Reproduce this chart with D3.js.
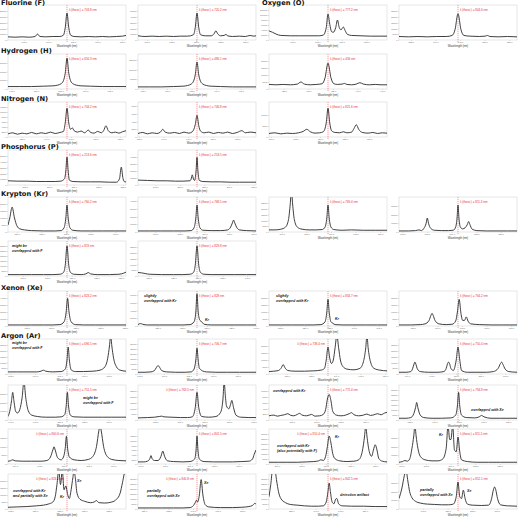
<!DOCTYPE html>
<html>
<head>
<meta charset="utf-8">
<script src="https://cdn.jsdelivr.net/npm/d3@7"></script>
<style>
  body { margin: 0; background: #fff; }
  svg { display: block; }
</style>
</head>
<body>
<svg id="fig" width="520" height="519"></svg>
<script>
'use strict';

// Section headers: text, row, column
var headers = [
  ['Fluorine (F)', 0, 0], ['Oxygen (O)', 0, 2], ['Hydrogen (H)', 1, 0],
  ['Nitrogen (N)', 2, 0], ['Phosphorus (P)', 3, 0], ['Krypton (Kr)', 4, 0],
  ['Xenon (Xe)', 6, 0], ['Argon (Ar)', 7, 0]
];

// Theoretical line of each panel (nm), in drawing order
var lambdaText = [
  '703.8', '720.2', '777.2', '844.6',
  '656.3', '486.1', '434',
  '744.2', '746.8', '821.6',
  '213.6', '253.5',
  '760.2', '768.5', '769.4', '811.3',
  '819', '829.8',
  '823.2', '828', '834.7', '764.2',
  '696.5', '706.7', '738.4', '750.4',
  '751.5', '763.5', '772.4', '794.8',
  '800.6', '801.5', '810.4', '811.5',
  '826.5', '840.8', '842.5', '852.1'
];

// Counts at the top of each panel
var yTop = [
  300000, 60000, 140000, 30000,
  200000, 180000, 25000,
  14000, 9000, 16000,
  60000, 50000,
  25000, 45000, 30000, 40000,
  35000, 30000,
  50000, 90000, 25000, 25000,
  30000, 35000, 25000, 30000,
  40000, 30000, 12000, 35000,
  20000, 15000, 35000, 40000,
  25000, 35000, 35000, 40000
];

// Spectra: [position across window (%), intensity (% of panel top)]
var spectra = [
  [[0,9],[6,8],[12,9],[18,8],[23,10],[25,17],[27,10],[32,9],[38,10],[44,10],[47,14],[48.5,35],[50,77],[51.5,35],[53,14],[56,10],[62,9],[68,10],[74,9],[80,10],[86,9],[92,10],[97,11],[100,13]],
  [[0,12],[6,10],[12,11],[18,10],[24,11],[30,10],[36,11],[42,11],[47,15],[48.5,35],[50,77],[51.5,35],[53,15],[57,12],[62,12],[64.5,18],[66,26],[67.5,18],[70,12],[73,13],[74.5,16],[76,12],[80,10],[86,11],[91,10],[95,13],[98,11],[100,12]],
  [[0,26],[3,22],[6,17],[10,13],[18,12],[26,12],[34,12],[42,12],[46,14],[48.5,35],[50,74],[51.5,45],[53,24],[54.5,22],[56.5,35],[58,57],[59.5,36],[61,29],[63,37],[64.5,27],[66.5,16],[70,13],[78,12],[86,11],[94,11],[100,11]],
  [[0,10],[8,9],[16,10],[24,9],[32,10],[40,10],[45,13],[47.5,30],[50,75],[52.5,30],[55,13],[60,11],[68,10],[73,11],[75,13],[77,10],[84,9],[92,10],[100,9]],
  [[0,7],[10,7],[20,7],[30,8],[38,9],[42,11],[45,15],[47,24],[48.5,45],[50,88],[51.5,45],[53,24],[55,15],[58,11],[62,9],[70,8],[80,7],[90,7],[100,7]],
  [[0,6],[10,6],[20,6],[30,7],[38,8],[42,10],[45,14],[47,22],[48.5,40],[50,77],[51.5,40],[53,22],[55,14],[58,10],[62,8],[70,7],[80,6],[90,6],[100,6]],
  [[0,13],[6,12],[12,13],[18,12],[24,14],[27,20],[30,14],[35,12],[40,13],[45,15],[47.5,32],[50,74],[52.5,32],[55,15],[58,13],[62,14],[64,16],[66,13],[70,12],[74,14],[77,18],[80,14],[85,12],[90,13],[95,12],[100,12]],
  [[0,9],[4,12],[8,8],[12,11],[16,9],[20,13],[24,9],[28,12],[32,10],[36,14],[40,10],[44,13],[47,16],[48.5,40],[50,82],[51.5,40],[53,22],[54.5,26],[56,18],[59,14],[62,17],[65,12],[68,20],[70,13],[73,11],[76,16],[79,12],[81,18],[83,32],[85,18],[88,12],[91,14],[94,11],[97,15],[100,18]],
  [[0,10],[4,13],[8,9],[12,12],[16,10],[19,14],[21,22],[23,14],[27,11],[31,13],[35,10],[39,14],[43,11],[46,15],[48.5,35],[50,62],[51.5,32],[53,17],[56,12],[60,14],[64,10],[68,13],[72,11],[76,14],[80,10],[84,13],[88,18],[91,12],[95,14],[100,12]],
  [[0,10],[5,12],[10,9],[15,11],[20,10],[25,12],[29,16],[32,22],[35,15],[39,11],[43,12],[46,15],[48.5,40],[50,82],[51.5,40],[53,18],[56,13],[60,12],[63,15],[66,12],[70,14],[72,24],[74,35],[76,22],[79,13],[84,11],[88,13],[92,10],[96,12],[100,11]],
  [[0,12],[8,11],[16,11],[24,10],[32,10],[40,10],[45,11],[47,15],[48,18],[49,40],[50,80],[51,40],[52,14],[55,10],[62,9],[70,9],[78,9],[86,8],[92,8],[94.5,18],[96,51],[97.5,18],[99,9],[100,9]],
  [[0,14],[8,13],[16,12],[24,12],[32,11],[38,11],[44,12],[45,17],[46,29],[47,17],[48,13],[49.2,40],[50,79],[50.8,40],[52,13],[55,10],[62,9],[70,9],[78,8],[86,8],[94,8],[100,8]],
  [[0,20],[1.5,40],[3.5,71],[5.5,40],[7.5,18],[10,9],[14,6],[20,4],[30,3],[40,3],[45,4],[47.5,12],[49,40],[50,77],[51,40],[52.5,12],[55,5],[62,3],[70,3],[80,3],[90,3],[100,3]],
  [[0,3],[10,3],[20,3],[30,3],[40,3],[45,4],[47.5,12],[49,40],[50,77],[51,40],[52.5,12],[55,5],[62,4],[70,4],[76,6],[78.5,14],[80,26],[81,34],[82,26],[83.5,14],[86,6],[92,4],[100,3]],
  [[0,6],[5,6],[10,8],[14,14],[16.5,35],[18,80],[19,120],[20,80],[21.5,35],[24,14],[28,8],[34,6],[40,6],[45,7],[47.5,14],[49,40],[50,77],[51,40],[52.5,14],[55,7],[62,5],[70,6],[80,5],[90,5],[100,5]],
  [[0,3],[8,3],[14,4],[17,6],[19,4],[21,10],[23,25],[24,40],[25,25],[27,10],[30,5],[36,4],[42,4],[46,5],[48,14],[49.2,40],[50,77],[50.8,40],[52,14],[54,9],[56,12],[58,22],[59,30],[60,22],[62,8],[66,4],[74,3],[84,3],[92,3],[100,3]],
  [[0,4],[10,4],[20,4],[30,4],[38,4],[44,5],[47,10],[48.5,30],[50,86],[51.5,30],[53,10],[56,5],[62,4],[66,6],[68,10],[70,6],[76,4],[86,4],[94,5],[98,8],[100,11]],
  [[0,10],[3,9],[6,7],[10,5],[20,4],[30,4],[38,4],[44,5],[47,10],[48.5,30],[50,86],[51.5,30],[53,10],[56,5],[62,4],[72,4],[82,4],[92,4],[100,4]],
  [[0,3],[10,3],[20,3],[30,3],[38,3],[44,4],[47.5,12],[49.3,40],[50.5,79],[51.7,40],[53.5,12],[57,4],[64,3],[74,3],[84,3],[94,3],[100,3]],
  [[0,4],[2,7],[4,5],[8,3],[18,3],[28,3],[38,3],[44,4],[47.5,12],[49,40],[50,92],[51,40],[52.5,16],[54,12],[56,5],[62,3],[72,3],[82,3],[92,3],[100,3]],
  [[0,3],[10,3],[20,3],[30,3],[38,3],[44,4],[47.5,12],[49,40],[50,76],[51,40],[52.5,12],[54,8],[56,4],[62,3],[72,3],[82,3],[92,3],[100,3]],
  [[0,3],[10,3],[18,4],[22,6],[25.5,16],[27,30],[28,36],[29,30],[30.5,16],[34,6],[40,4],[45,5],[48,14],[49.5,40],[51,76],[52.5,36],[54,16],[55.5,16],[57,26],[58.5,14],[61,6],[68,4],[78,3],[88,3],[100,3]],
  [[0,6],[8,6],[16,6],[24,6],[28,8],[30,11],[32,8],[38,6],[45,7],[48.5,14],[50,40],[51,77],[52,40],[53.5,12],[57,7],[64,7],[72,8],[78,11],[82,20],[84.5,45],[86,80],[87,110],[88,80],[89.5,45],[92,20],[95,11],[100,8]],
  [[0,5],[6,5],[11,6],[14,10],[15.5,18],[17,24],[18.5,18],[20,10],[24,6],[32,5],[40,5],[45,6],[47.5,14],[49,40],[50,74],[51,40],[52,16],[53,13],[54.5,9],[58,6],[66,5],[76,5],[86,5],[94,5],[100,5]],
  [[0,7],[4,8],[8,10],[10.5,18],[12,27],[13.5,18],[16,10],[22,8],[30,8],[38,9],[44,11],[47,16],[48.5,40],[50,77],[51.5,45],[53,30],[54.5,40],[56,75],[57.5,110],[59,75],[60.5,40],[62.5,22],[66,14],[72,12],[77,16],[80,35],[82,75],[83,110],[84,75],[86,35],[89,16],[94,11],[100,9]],
  [[0,5],[6,5],[10,7],[11.5,15],[12.5,26],[13.5,34],[14.5,26],[15.5,15],[18,7],[25,5],[33,5],[38,7],[40,16],[41,28],[42,34],[43,28],[44,16],[46,10],[48.5,40],[50,77],[51.5,40],[53,10],[58,5],[66,5],[74,5],[80,7],[84,16],[86,30],[87,34],[88,28],[90,14],[93,7],[100,5]],
  [[0,10],[1.5,25],[3,55],[4,79],[5,55],[6.5,25],[8,20],[10,30],[12,65],[13.5,110],[15,65],[17,28],[20,14],[25,10],[32,8],[40,8],[45,9],[48,15],[49.3,40],[50.3,79],[51.3,40],[52.8,14],[56,9],[64,8],[72,8],[80,8],[88,8],[96,8],[100,8]],
  [[0,6],[8,7],[14,8],[18,10],[20,11],[22,9],[28,8],[36,7],[42,7],[46,9],[48.5,35],[50,79],[51.5,35],[54,10],[60,8],[66,10],[70,22],[72,60],[73,110],[74,70],[75,40],[77,32],[78.5,45],[79.5,56],[81,35],[83,14],[87,8],[94,7],[100,7]],
  [[0,12],[4,14],[7,11],[10,13],[13,15],[16,18],[18,14],[21,12],[24,16],[26,19],[28,14],[32,12],[36,16],[39,11],[43,12],[46,16],[48,30],[49.5,60],[51,73],[52.5,55],[54,25],[57,14],[61,12],[65,14],[68,18],[70,21],[72,15],[76,12],[80,14],[83,17],[86,13],[89,15],[92,18],[95,15],[98,20],[100,22]],
  [[0,5],[6,5],[10,7],[12,14],[14,35],[15,50],[16,35],[18,14],[21,7],[28,5],[36,5],[44,6],[48,14],[49.5,40],[50.5,79],[51.5,40],[53,14],[57,7],[64,6],[68,9],[70,13],[72,9],[78,5],[86,5],[94,5],[100,5]],
  [[0,8],[2,9],[4,12],[6,9],[12,8],[20,8],[28,8],[33,10],[36,20],[38,40],[39,49],[40,40],[42,18],[45,12],[47,20],[48.5,45],[49.5,79],[50.5,45],[52,20],[56,12],[62,10],[68,13],[72,22],[75,50],[77,95],[78,110],[79,95],[81,50],[84,22],[88,13],[94,10],[100,9]],
  [[0,6],[5,6],[8,8],[10,15],[11,24],[12,15],[14,10],[17,10],[19.5,22],[21,37],[22.5,22],[25,9],[30,7],[38,6],[44,7],[48,14],[49.2,40],[50,80],[50.8,40],[52,14],[56,7],[64,6],[72,6],[80,6],[88,7],[94,8],[97,14],[98.5,28],[100,40]],
  [[0,5],[8,5],[16,5],[24,5],[32,6],[38,7],[42,9],[44,12],[46,10],[48,22],[49.5,50],[51,80],[52.5,60],[54,30],[56,15],[60,9],[66,7],[72,8],[76,12],[79,35],[81,80],[82,110],[83,80],[85,35],[87,22],[88.5,40],[90,55],[91.5,40],[93,16],[96,8],[100,6]],
  [[0,5],[3,7],[5,10],[7,8],[9,14],[11,45],[12.5,80],[13.5,110],[14.5,80],[16,45],[18,22],[22,12],[28,9],[33,9],[37,14],[40,45],[41.5,110],[43,70],[44,70],[45.5,110],[47,40],[48.5,35],[50,77],[51.5,35],[53,12],[58,7],[66,5],[76,5],[86,5],[94,5],[100,5]],
  [[0,5],[8,6],[16,7],[24,9],[30,11],[34,14],[38,20],[40,35],[41.5,70],[43,110],[44.5,70],[46,110],[47.5,55],[49,66],[50.5,42],[52,30],[53.5,55],[55,90],[56,110],[57,90],[58.5,45],[61,28],[65,22],[70,18],[73,20],[75,24],[77,18],[82,17],[88,20],[92,28],[95,45],[97,75],[98.5,100],[100,115]],
  [[0,3],[10,3],[20,3],[30,3],[38,3],[44,4],[47,10],[48.5,18],[49.5,25],[50.5,20],[52,40],[53.5,84],[55,40],[57,12],[60,6],[70,4],[80,4],[88,5],[94,7],[97,10],[99,16],[100,14]],
  [[0,35],[1.5,70],[3,110],[5,110],[6.5,80],[8,50],[10,30],[14,18],[18,13],[24,11],[30,9],[36,8],[42,8],[46,9],[48.5,20],[50,50],[51,74],[52,50],[53.5,20],[55,15],[56.5,28],[57.5,30],[59,15],[62,9],[70,8],[80,8],[90,7],[100,7]],
  [[0,30],[2.5,60],[4.5,95],[6,110],[7.5,80],[9,50],[11,32],[14,22],[18,17],[24,14],[30,13],[36,12],[42,12],[46,14],[48.5,35],[50,77],[51.5,35],[53,30],[54.5,54],[56,30],[58,14],[62,11],[70,10],[76,11],[78.5,30],[80,55],[81,63],[82,55],[83.5,30],[86,12],[92,9],[100,8]]
];

// Grid slot [row, column] of each panel
var slots = [
  [0,0],[0,1],[0,2],[0,3],
  [1,0],[1,1],[1,2],
  [2,0],[2,1],[2,2],
  [3,0],[3,1],
  [4,0],[4,1],[4,2],[4,3],
  [5,0],[5,1],
  [6,0],[6,1],[6,2],[6,3],
  [7,0],[7,1],[7,2],[7,3],
  [8,0],[8,1],[8,2],[8,3],
  [9,0],[9,1],[9,2],[9,3],
  [10,0],[10,1],[10,2],[10,3]
];

// Panels whose red label sits left of the dashed line
var labelLeft = [24, 27, 30, 32, 34, 35];

// Black annotations: panel, lines, offset inside the plot (px)
var notes = [
  [16, ['might be', 'overlapped with F'], 4, 6],
  [19, ['slightly', 'overlapped with Kr'], 6, 6],
  [19, ['Kr'], 67, 30],
  [20, ['slightly', 'overlapped with Kr'], 7, 6],
  [20, ['Kr'], 66, 29],
  [22, ['might be', 'overlapped with F'], 4, 5],
  [26, ['might be', 'overlapped with F'], 75, 14],
  [28, ['overlapped with Kr'], 4, 7],
  [29, ['overlapped with Xe'], 72, 26],
  [32, ['overlapped with Kr', '(also potentially with F)'], 8, 18],
  [32, ['Kr'], 66, 9],
  [33, ['Kr'], 40, 7],
  [34, ['overlapped with Kr', 'and partially with Xe'], 5, 18],
  [34, ['Kr'], 52, 24],
  [34, ['Xe'], 69, 8],
  [35, ['partially', 'overlapped with Xe'], 9, 18],
  [35, ['Xe'], 66, 10],
  [36, ['detection artifact'], 71, 22],
  [37, ['partially', 'overlapped with Xe'], 21, 17],
  [37, ['Xe'], 68, 18]
];

var rowTop = [5, 54, 102, 150, 197, 241, 291, 339, 385, 429, 474],
  colLeft = [8, 138, 269, 399],
  plotW = 118,
  plotH = 35,
  halfSpan = 12,
  svg = d3.select('#fig');

svg.append('rect').attr('width', 520).attr('height', 519).attr('fill', '#fff');

function styleAxis(a) {
  a.select('.domain').remove();
  a.selectAll('line').attr('stroke', '#999').attr('stroke-width', 0.3);
  a.selectAll('text')
    .attr('fill', '#666')
    .style('font-size', '2.2px')
    .style('font-family', 'Liberation Sans, Arial, sans-serif');
}

// Draw every panel
lambdaText.forEach(function (lt, i) {
  var lam = +lt,
    r = slots[i][0],
    c = slots[i][1],
    left = labelLeft.indexOf(i) >= 0,
    g, x, pos, y, line, clipId, yTicks;

  x = d3.scaleLinear().domain([lam - halfSpan, lam + halfSpan]).range([0, plotW]);
  pos = d3.scaleLinear().domain([0, 100]).range([lam - halfSpan, lam + halfSpan]);
  y = d3.scaleLinear().domain([0, yTop[i]]).range([plotH, 0]);
  yTicks = y.ticks(5).filter(function (t) { return t <= yTop[i] * 0.9; });

  g = svg.append('g').attr('transform', 'translate(' + colLeft[c] + ',' + rowTop[r] + ')');

  clipId = 'clip' + i;
  g.append('clipPath').attr('id', clipId)
    .append('rect').attr('width', plotW).attr('height', plotH);

  g.append('rect')
    .attr('width', plotW).attr('height', plotH)
    .attr('fill', '#fff')
    .attr('stroke', '#cfcfcf')
    .attr('stroke-width', 0.5);

  g.append('g')
    .attr('transform', 'translate(0,' + plotH + ')')
    .call(d3.axisBottom(x).ticks(5).tickSize(1).tickPadding(0.6).tickFormat(d3.format('.1f')))
    .call(styleAxis);

  g.append('g')
    .call(d3.axisLeft(y).tickValues(yTicks).tickSize(1).tickPadding(0.6).tickFormat(d3.format('d')))
    .call(styleAxis);

  g.append('text')
    .attr('x', plotW / 2).attr('y', plotH + 6.5)
    .attr('text-anchor', 'middle')
    .attr('fill', '#333')
    .style('font-size', '2.7px')
    .style('font-family', 'Liberation Sans, Arial, sans-serif')
    .text('Wavelength (nm)');

  // Theoretical line
  g.append('line')
    .attr('x1', x(lam)).attr('x2', x(lam))
    .attr('y1', 0).attr('y2', plotH + 2)
    .attr('stroke', '#e8343a')
    .attr('stroke-width', 0.5)
    .attr('stroke-dasharray', '1.2,0.8');

  g.append('text')
    .attr('x', left ? x(lam) - 3 : x(lam) + 2).attr('y', 6)
    .attr('text-anchor', left ? 'end' : 'start')
    .attr('fill', '#e8343a')
    .style('font-size', '3px')
    .style('font-family', 'Liberation Sans, Arial, sans-serif')
    .text('\u03bb (theor.) = ' + lt + ' nm');

  line = d3.line()
    .x(function (d) { return x(pos(d[0])); })
    .y(function (d) { return y(d[1] / 100 * yTop[i]); })
    .curve(d3.curveMonotoneX);

  g.append('path')
    .datum(spectra[i])
    .attr('clip-path', 'url(#' + clipId + ')')
    .attr('d', line)
    .attr('fill', 'none')
    .attr('stroke', '#2a2a2a')
    .attr('stroke-width', 0.9)
    .attr('stroke-linejoin', 'round');
});

// Section headers
headers.forEach(function (h) {
  svg.append('text')
    .attr('x', colLeft[h[2]] - 7)
    .attr('y', Math.max(rowTop[h[1]] - 1.5, 5.2))
    .attr('fill', '#111')
    .style('font-size', '6.7px')
    .style('font-weight', 'bold')
    .style('font-family', 'DejaVu Sans, Verdana, sans-serif')
    .text(h[0]);
});

// Overlap annotations
notes.forEach(function (n) {
  var s = slots[n[0]],
    t = svg.append('text')
      .attr('fill', '#111')
      .style('font-size', '3.6px')
      .style('font-weight', 'bold')
      .style('font-style', 'italic')
      .style('font-family', 'Liberation Sans, Arial, sans-serif');

  n[1].forEach(function (s2, k) {
    t.append('tspan')
      .attr('x', colLeft[s[1]] + n[2])
      .attr('y', rowTop[s[0]] + n[3] + k * 4.8)
      .text(s2);
  });
});
</script>
</body>
</html>
